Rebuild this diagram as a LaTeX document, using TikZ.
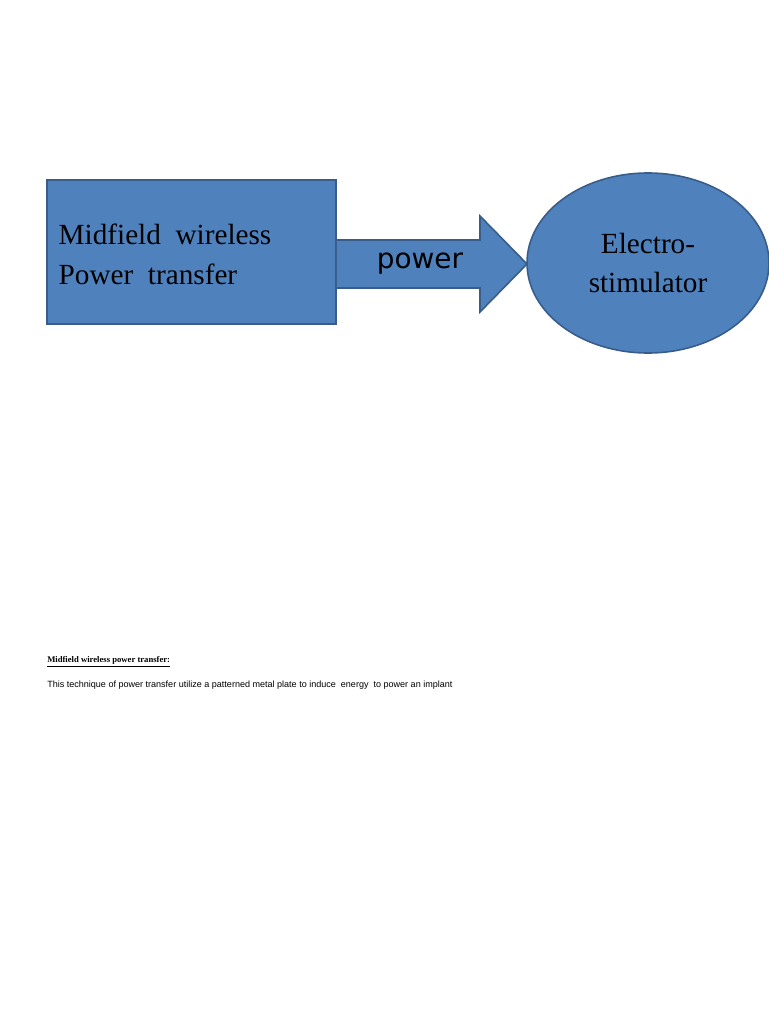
\documentclass[tikz,border=0pt]{standalone}
\usepackage{fontspec}
\setmainfont{Liberation Serif}
\newfontfamily\powerfont{DejaVu Sans}
\newfontfamily\notefont{Liberation Sans}
\usetikzlibrary{shapes.geometric}
\definecolor{boxblue}{RGB}{79,129,189}
\definecolor{edgeblue}{RGB}{56,93,138}
\begin{document}
\begin{tikzpicture}[x=0.02646cm,y=-0.02646cm,
  blockfill/.style={fill=boxblue,draw=edgeblue,line width=1.2pt}]
  \useasboundingbox (0,0) rectangle (768,1024);
  \fill[white] (0,0) rectangle (768,1024);
  \node[blockfill,minimum width=289*0.02646cm,minimum height=144*0.02646cm,inner sep=0pt]
    (src) at (191.5,252) {};
  \node[anchor=west,align=left,font=\fontsize{22}{30}\selectfont] (srctext) at (54,254)
    {Midfield~ wireless\\Power~ transfer};
  \coordinate (tip) at (527,264);
  \draw[blockfill] (src.east|-0,240) -- (480,240) -- (480,216) -- (tip) -- (480,312)
    -- (480,288) -- (src.east|-0,288);
  \node[font=\powerfont\fontsize{21}{24}\selectfont] (lbl) at (420,264) {power};
  \node[blockfill,ellipse,minimum width=242*0.02646cm,minimum height=180*0.02646cm,
    inner sep=0pt] (stim) at (648,263) {};
  \node[align=center,font=\fontsize{22}{30}\selectfont] (stimtext) at (stim.center)
    {Electro-\\stimulator};
  \node[anchor=west,inner sep=0pt,font=\fontsize{6.5}{8}\selectfont\bfseries] (title) at (47,662)
    {\underline{Midfield wireless power transfer:}};
  \node[anchor=west,inner sep=0pt,font=\notefont\fontsize{6.8}{8}\selectfont] (note) at (47,685)
    {This technique of power transfer utilize a patterned metal plate to induce~ energy~ to power an implant};
\end{tikzpicture}
\end{document}
